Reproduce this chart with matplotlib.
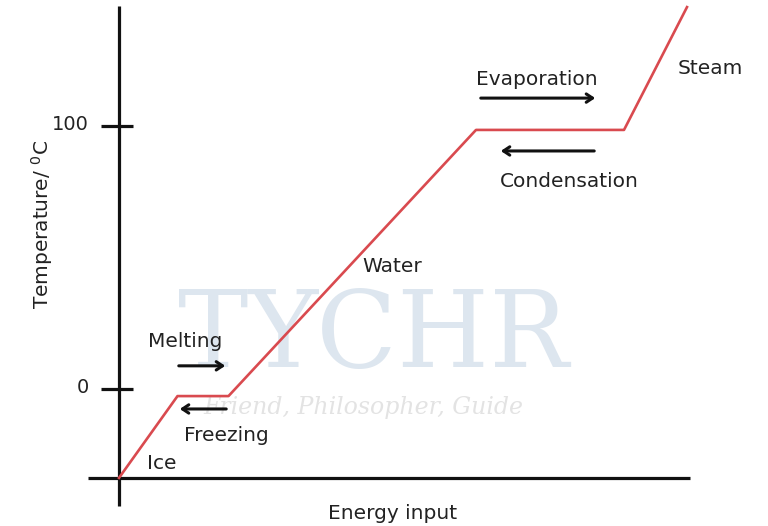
import matplotlib
matplotlib.use("Agg")
import matplotlib.pyplot as plt

# heating curve of water (energy in arbitrary units, temperature in degC)
energy = [0.0, 5.85, 10.95, 35.7, 50.5, 56.8]
temperature = [-33.8, -2.7, -2.7, 98.5, 98.5, 145.2]

tick_values = [0, 100]
tick_labels = ["0", "100"]

# phase labels: (text, energy, temperature)
labels = [
    ("Ice", 4.3, -28.5),
    ("Water", 27.3, 46.4),
    ("Steam", 59.1, 122.0),
    ("Melting", 6.6, 18.2),
    ("Freezing", 10.7, -17.7),
    ("Evaporation", 41.8, 117.5),
    ("Condensation", 45.0, 78.7),
]

# arrows: (start energy, end energy, temperature)
arrows = [
    (5.7, 10.9, 8.8),     # melting
    (11.0, 5.8, -7.6),    # freezing
    (35.9, 47.9, 110.6),  # evaporation
    (47.8, 37.9, 90.5),   # condensation
]

red = "#d94a4f"
black = "#111111"

fig = plt.figure(figsize=(7.68, 5.26), dpi=100)
ax = fig.add_axes([0, 0, 1, 1])
ax.set_xlim(-11.9, 64.9)
ax.set_ylim(-52.1, 147.9)
ax.axis("off")

# watermark
ax.text(5.9, 19.4, "TYCHR", fontsize=76, family="DejaVu Serif",
        color="#dde6ef", ha="left", va="center", zorder=0)
ax.text(8.4, -7.2, "Friend, Philosopher, Guide", fontsize=17,
        family="DejaVu Serif", style="italic", color="#e3e3e3",
        ha="left", va="center", zorder=0)

# axes
ax.plot([0, 0], [-44.5, 145.6], color=black, lw=2.3, solid_capstyle="butt")
ax.plot([-3.1, 57.1], [-33.8, -33.8], color=black, lw=2.3, solid_capstyle="butt")
for v in tick_values:
    ax.plot([-1.8, 1.4], [v, v], color=black, lw=2.3, solid_capstyle="butt")
for v, lab in zip(tick_values, tick_labels):
    ax.text(-3.0, v + 0.6, lab, fontsize=14, ha="right", va="center", color="#222222")

ax.plot(energy, temperature, color=red, lw=1.9, zorder=3)

for text, x, y in labels:
    ax.text(x, y, text, fontsize=14.5, ha="center", va="center", color="#222222")

for x0, x1, y in arrows:
    ax.annotate("", xy=(x1, y), xytext=(x0, y),
                arrowprops=dict(arrowstyle="->,head_length=0.45,head_width=0.3",
                                color=black, lw=2.2))

ax.text(27.4, -47.4, "Energy input", fontsize=14.5, ha="center", va="center",
        color="#222222")
ax.text(-7.7, 62.4, "Temperature/ $^{0}$C", fontsize=14.5, rotation=90,
        ha="center", va="center", color="#222222")

fig.savefig("out.png", dpi=100)
